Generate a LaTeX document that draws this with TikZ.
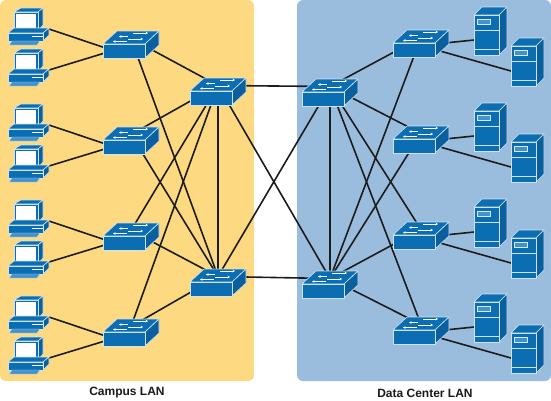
\documentclass[tikz,border=0pt]{standalone}
\usepackage{fontspec}
\setmainfont{Liberation Sans}
\usetikzlibrary{backgrounds,arrows.meta}
\definecolor{campus}{HTML}{FDD981}
\definecolor{dcenter}{HTML}{9ABDDE}
\definecolor{icona}{HTML}{0B6DB2}
\definecolor{iconb}{HTML}{0A5F9E}
\definecolor{iconc}{HTML}{3F93CF}
\definecolor{wire}{HTML}{1C1C1C}
\tikzset{
  panel/.style={rounded corners=6pt,draw=none},
  icon/.style={fill=icona,draw=white!80!icona,line width=0.6pt,line join=round},
  iconside/.style={fill=iconb,draw=white!80!icona,line width=0.6pt,line join=round},
  wirelink/.style={draw=wire,line width=1.6pt},
  swarrow/.style={draw=white,line width=0.8pt,-{Stealth[length=2.5pt,width=2.5pt]}},
  anchorbox/.style={inner sep=0pt,outer sep=0pt,draw=none},
  paneltitle/.style={font=\bfseries\fontsize{12}{14}\selectfont,text=black!90,inner sep=0pt}
}
% x,y = top-left corner of the front face
\newcommand{\swicon}[3]{%
  \begin{scope}[shift={(#2,#3)}]
    \path[icon] (0,0) -- (14,-13) -- (56,-13) -- (42,0) -- cycle;
    \path[iconside] (42,0) -- (56,-13) -- (56,1) -- (42,14) -- cycle;
    \path[icon] (0,0) rectangle (42,14);
    \draw[swarrow] (25,-7.5) -- (16,-7.5);
    \draw[swarrow] (30,-11) -- (45,-11);
    \draw[swarrow] (25,-5) -- (40,-5);
    \draw[swarrow] (24,-2.5) -- (10,-2.5);
    \node[anchorbox,minimum width=56pt,minimum height=14pt] (#1) at (28,-5.5) {};
    \coordinate (#1-in) at (10,6.5);
    \coordinate (#1-out) at (27.5,2.5);
  \end{scope}}
% x,y = reference corner of the computer
\newcommand{\pcicon}[3]{%
  \begin{scope}[shift={(#2,#3)}]
    \path[icon] (6,4) -- (13,0) -- (35,0) -- (30,4) -- cycle;
    \path[iconside] (30,4) -- (35,0) -- (35,17) -- (30,23) -- cycle;
    \path[icon] (6,4) rectangle (30,23);
    \fill[white] (8,5.5) rectangle (28,20);
    \path[icon] (0,25) -- (6,20) -- (41,20) -- (35,25) -- cycle;
    \path[iconside] (35,25) -- (41,20) -- (41,27) -- (35,33) -- cycle;
    \path[icon] (0,25) rectangle (35,33);
    \draw[white,line width=0.7pt] (24,28.5) -- (35,28.5);
    \path[fill=iconc,draw=white!80!icona,line width=0.4pt] (1,37) -- (4,33) -- (32,33) -- (29,37) -- cycle;
    \node[anchorbox,minimum width=41pt,minimum height=38pt] (#1) at (20.5,21) {};
  \end{scope}}
% x,y = top-left corner of the front face
\newcommand{\svicon}[3]{%
  \begin{scope}[shift={(#2,#3)}]
    \path[icon] (0,0) -- (8,-8) -- (33,-8) -- (25,0) -- cycle;
    \path[iconside] (25,0) -- (33,-8) -- (33,32) -- (25,40) -- cycle;
    \path[icon] (0,0) rectangle (25,40);
    \path[draw=white!80!icona,line width=0.6pt] (0,15) -- (25,15);
    \path[draw=white!80!icona,line width=0.6pt] (0,34) -- (25,34);
    \path[fill=iconc,draw=white!85!icona,line width=0.6pt] (3,4) rectangle (16,9.5);
    \node[anchorbox,minimum width=25pt,minimum height=40pt] (#1) at (12.5,25) {};
  \end{scope}}
\begin{document}
\begin{tikzpicture}[x=1pt,y=-1pt]
\useasboundingbox (0,0) rectangle (551,400);
% icons
\pcicon{pa}{8}{8}\pcicon{pb}{8}{49}
\pcicon{pc}{8}{104}\pcicon{pd}{8}{145}
\pcicon{pe}{8}{200}\pcicon{pf}{8}{241}
\pcicon{pg}{8}{296}\pcicon{ph}{8}{337}
\swicon{sa}{103}{44}\swicon{sb}{103}{140}\swicon{sc}{103}{236}\swicon{sd}{103}{332}
\swicon{da}{190}{91}\swicon{db}{190}{282}
\swicon{dc}{302}{92}\swicon{dd}{302}{284}
\swicon{aa}{393}{43}\swicon{ab}{393}{139}\swicon{ac}{393}{235}\swicon{ad}{393}{330}
\svicon{va}{474}{15}\svicon{vb}{511}{46}
\svicon{vc}{474}{111}\svicon{vd}{511}{142}
\svicon{ve}{474}{207}\svicon{vf}{511}{238}
\svicon{vg}{474}{302}\svicon{vh}{511}{333}
\node[paneltitle] (campustitle) at (127,393) {Campus LAN};
\node[paneltitle] (dctitle) at (425,393) {Data Center LAN};
\begin{scope}[on background layer]
  \path[panel,fill=campus] (0,0) rectangle (254,381);
  \path[panel,fill=dcenter] (297,0) rectangle (551,381);
  \foreach \p/\s in {pa/sa,pb/sa,pc/sb,pd/sb,pe/sc,pf/sc,pg/sd,ph/sd}
    \draw[wirelink] (\p.east) -- (\s-in);
  \foreach \s in {sa,sb,sc,sd}{
    \draw[wirelink] (\s.center) -- (da.center);
    \draw[wirelink] (\s.center) -- (db.center);}
  \foreach \s in {aa,ab,ac,ad}{
    \draw[wirelink] (\s.center) -- (dc.center);
    \draw[wirelink] (\s.center) -- (dd.center);}
  \draw[wirelink] (da.center) -- (db.center);
  \draw[wirelink] (dc.center) -- (dd.center);
  \draw[wirelink] (da.center) -- (dc.center);
  \draw[wirelink] (db.center) -- (dd.center);
  \draw[wirelink] (da.center) -- (dd.center);
  \draw[wirelink] (db.center) -- (dc.center);
  \foreach \s/\v in {aa/va,aa/vb,ab/vc,ab/vd,ac/ve,ac/vf,ad/vg,ad/vh}
    \draw[wirelink] (\s-out) -- (\v.west);
\end{scope}
\end{tikzpicture}
\end{document}
